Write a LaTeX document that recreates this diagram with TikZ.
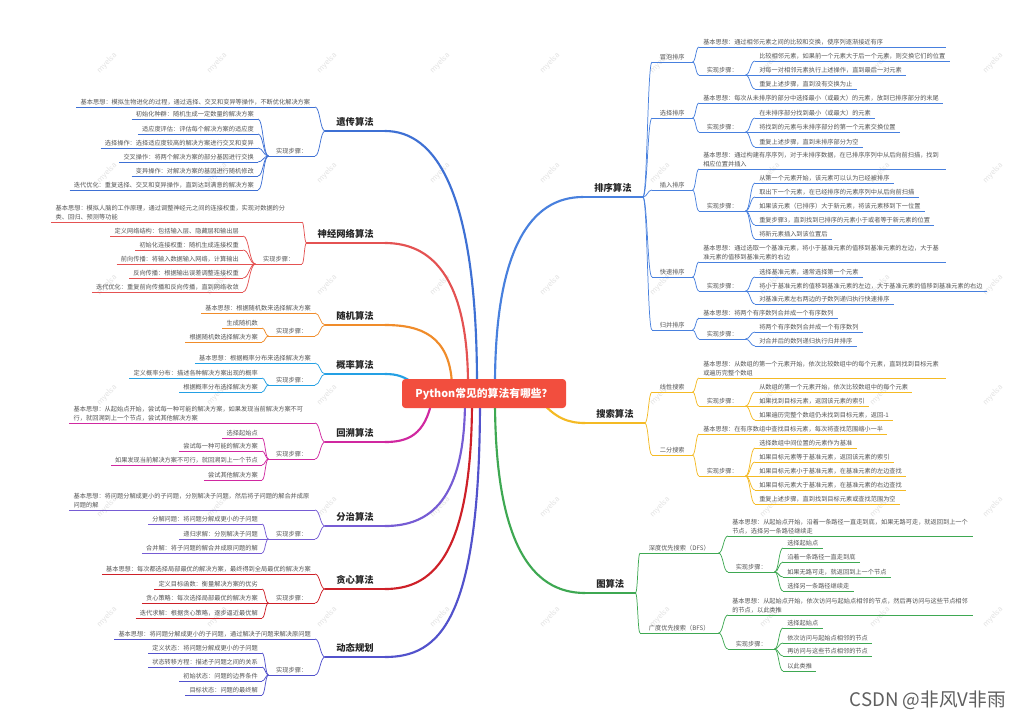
\documentclass[tikz,border=0pt]{standalone}
\usepackage{fontspec}
\setmainfont{Noto Sans CJK SC}
\usetikzlibrary{calc}
\definecolor{sortc}{RGB}{72,128,222}
\definecolor{searchc}{RGB}{244,186,36}
\definecolor{graphc}{RGB}{62,168,82}
\definecolor{genc}{RGB}{62,112,212}
\definecolor{nnc}{RGB}{228,82,82}
\definecolor{randc}{RGB}{240,140,42}
\definecolor{probc}{RGB}{36,160,228}
\definecolor{backc}{RGB}{208,40,160}
\definecolor{divc}{RGB}{118,92,212}
\definecolor{greedc}{RGB}{206,32,40}
\definecolor{dpc}{RGB}{82,82,204}
\definecolor{rootc}{RGB}{242,78,62}
\definecolor{txtc}{RGB}{85,85,85}
\definecolor{mainc}{RGB}{38,38,38}
\definecolor{wmc}{RGB}{226,226,226}
\definecolor{csdnc}{RGB}{95,95,95}
\tikzset{
  leaf/.style={font=\fontsize{4.65}{6.75}\selectfont, text=txtc, inner xsep=3pt, inner ysep=1.1pt, align=left},
  stepbox/.style={leaf, minimum width=34.5pt},
  subbox/.style={leaf, minimum width=30pt},
  mainlab/.style={font=\fontsize{7}{8}\selectfont\bfseries, text=mainc, inner xsep=8.25pt, inner ysep=3.5pt},
  rootbox/.style={fill=rootc, rounded corners=2.5pt, minimum width=123pt, minimum height=21.75pt, text=white, font=\fontsize{8.1}{9}\selectfont\bfseries, inner sep=0pt},
  ul/.style={line width=0.55pt},
  mainul/.style={line width=1.1pt},
  conn/.style={line width=0.55pt},
  branch/.style={line width=1.6pt, line cap=round},
  wm/.style={rotate=45, text=wmc, font=\fontsize{5.5}{6}\selectfont},
}
\newcommand\leafR[5][leaf]{\node[#1,anchor=south west] (#2) at (#3) {#5};\draw[ul,#4] (#2.south west) -- (#2.south east);}
\newcommand\leafL[5][leaf]{\node[#1,anchor=south east] (#2) at (#3) {#5};\draw[ul,#4] (#2.south west) -- (#2.south east);}
\newcommand\mainR[4]{\node[mainlab,anchor=south west] (#1) at (#2) {#4};\draw[mainul,#3] (#1.south west) -- (#1.south east);}
\newcommand\mainL[4]{\node[mainlab,anchor=south east] (#1) at (#2) {#4};\draw[mainul,#3] (#1.south west) -- (#1.south east);}
\newcommand\conR[3]{\draw[conn,#1] let \p1=(#2.south east),\p2=(#3.south west) in (\p1) .. controls ({0.5*(\x1+\x2)},\y1) and ({0.5*(\x1+\x2)},\y2) .. (\p2);}
\newcommand\conL[3]{\draw[conn,#1] let \p1=(#2.south west),\p2=(#3.south east) in (\p1) .. controls ({0.5*(\x1+\x2)},\y1) and ({0.5*(\x1+\x2)},\y2) .. (\p2);}
\begin{document}
\begin{tikzpicture}[x=0.75pt,y=-0.75pt]
\useasboundingbox (0,0) rectangle (1021,719);
\fill[white] (0,0) rectangle (1021,719);
% watermarks
\foreach \wx in {107,217,327,440,550,660,770,880,993}
  \foreach \wy in {63,173,285,395,507,617}
    \node[wm] (wm-\wx-\wy) at (\wx,\wy) {myelsa};

% ===== Sorting =====
\mainR{S0}{583,197}{sortc}{排序算法}
\leafR[subbox]{S1}{652,62}{sortc}{冒泡排序}
\leafR[leaf,text width=178.5pt]{S1a}{699,47}{sortc}{基本思想：通过相邻元素之间的比较和交换，使序列逐渐接近有序}
\leafR[stepbox]{S1b}{699,75}{sortc}{实现步骤：}
\leafR{S1b1}{755,61}{sortc}{比较相邻元素，如果前一个元素大于后一个元素，则交换它们的位置}
\leafR{S1b2}{755,75}{sortc}{对每一对相邻元素执行上述操作，直到最后一对元素}
\leafR{S1b3}{755,89}{sortc}{重复上述步骤，直到没有交换为止}
\leafR[subbox]{S2}{652,118}{sortc}{选择排序}
\leafR{S2a}{699,103}{sortc}{基本思想：每次从未排序的部分中选择最小（或最大）的元素，放到已排序部分的末尾}
\leafR[stepbox]{S2b}{699,132}{sortc}{实现步骤：}
\leafR{S2b1}{755,118}{sortc}{在未排序部分找到最小（或最大）的元素}
\leafR{S2b2}{755,132}{sortc}{将找到的元素与未排序部分的第一个元素交换位置}
\leafR{S2b3}{755,147}{sortc}{重复上述步骤，直到未排序部分为空}
\leafR[subbox]{S3}{652,190}{sortc}{插入排序}
\leafR[leaf,text width=178.5pt]{S3a}{699,169}{sortc}{基本思想：通过构建有序序列，对于未排序数据，在已排序序列中从后向前扫描，找到\\相应位置并插入}
\leafR[stepbox]{S3b}{699,211}{sortc}{实现步骤：}
\leafR{S3b1}{755,183}{sortc}{从第一个元素开始，该元素可以认为已经被排序}
\leafR{S3b2}{755,197}{sortc}{取出下一个元素，在已经排序的元素序列中从后向前扫描}
\leafR{S3b3}{755,211}{sortc}{如果该元素（已排序）大于新元素，将该元素移到下一位置}
\leafR{S3b4}{755,225}{sortc}{重复步骤3，直到找到已排序的元素小于或者等于新元素的位置}
\leafR{S3b5}{755,239}{sortc}{将新元素插入到该位置后}
\leafR[subbox]{S4}{652,277}{sortc}{快速排序}
\leafR[leaf,text width=178.5pt]{S4a}{699,262}{sortc}{基本思想：通过选取一个基准元素，将小于基准元素的值移到基准元素的左边，大于基\\准元素的值移到基准元素的右边}
\leafR[stepbox]{S4b}{699,291}{sortc}{实现步骤：}
\leafR{S4b1}{755,277}{sortc}{选择基准元素，通常选择第一个元素}
\leafR{S4b2}{755,291}{sortc}{将小于基准元素的值移到基准元素的左边，大于基准元素的值移到基准元素的右边}
\leafR{S4b3}{755,304}{sortc}{对基准元素左右两边的子数列递归执行快速排序}
\leafR[subbox]{S5}{652,330}{sortc}{归并排序}
\leafR{S5a}{699,318}{sortc}{基本思想：将两个有序数列合并成一个有序数列}
\leafR[stepbox]{S5b}{699,339}{sortc}{实现步骤：}
\leafR{S5b1}{755,332}{sortc}{将两个有序数列合并成一个有序数列}
\leafR{S5b2}{755,346}{sortc}{对合并后的数列递归执行归并排序}

% ===== Search =====
\mainR{Q0}{585,423}{searchc}{搜索算法}
\leafR[subbox]{Q1}{652,392}{searchc}{线性搜索}
\leafR[leaf,text width=178.5pt]{Q1a}{699,378}{searchc}{基本思想：从数组的第一个元素开始，依次比较数组中的每个元素，直到找到目标元素\\或遍历完整个数组}
\leafR[stepbox]{Q1b}{699,406}{searchc}{实现步骤：}
\leafR{Q1b1}{755,392}{searchc}{从数组的第一个元素开始，依次比较数组中的每个元素}
\leafR{Q1b2}{755,406}{searchc}{如果找到目标元素，返回该元素的索引}
\leafR{Q1b3}{755,420}{searchc}{如果遍历完整个数组仍未找到目标元素，返回-1}
\leafR[subbox]{Q2}{652,455}{searchc}{二分搜索}
\leafR{Q2a}{699,434}{searchc}{基本思想：在有序数组中查找目标元素，每次将查找范围缩小一半}
\leafR[stepbox]{Q2b}{699,476}{searchc}{实现步骤：}
\leafR{Q2b1}{755,448}{searchc}{选择数组中间位置的元素作为基准}
\leafR{Q2b2}{755,462}{searchc}{如果目标元素等于基准元素，返回该元素的索引}
\leafR{Q2b3}{755,476}{searchc}{如果目标元素小于基准元素，在基准元素的左边查找}
\leafR{Q2b4}{755,490}{searchc}{如果目标元素大于基准元素，在基准元素的右边查找}
\leafR{Q2b5}{755,504}{searchc}{重复上述步骤，直到找到目标元素或查找范围为空}

% ===== Graph =====
\mainR{G0}{585,593}{graphc}{图算法}
\leafR[leaf,minimum width=58.5pt]{G1}{640,553}{graphc}{深度优先搜索（DFS）}
\leafR[leaf,text width=177pt]{G1a}{728,536}{graphc}{基本思想：从起始点开始，沿着一条路径一直走到底，如果无路可走，就返回到上一个\\节点，选择另一条路径继续走}
\leafR[stepbox]{G1b}{728,572}{graphc}{实现步骤：}
\leafR{G1b1}{783,548}{graphc}{选择起始点}
\leafR{G1b2}{783,562}{graphc}{沿着一条路径一直走到底}
\leafR{G1b3}{783,577}{graphc}{如果无路可走，就返回到上一个节点}
\leafR{G1b4}{783,591}{graphc}{选择另一条路径继续走}
\leafR[leaf,minimum width=58.5pt]{G2}{640,633}{graphc}{广度优先搜索（BFS）}
\leafR[leaf,text width=177pt]{G2a}{728,615}{graphc}{基本思想：从起始点开始，依次访问与起始点相邻的节点，然后再访问与这些节点相邻\\的节点，以此类推}
\leafR[stepbox]{G2b}{728,649}{graphc}{实现步骤：}
\leafR{G2b1}{783,628}{graphc}{选择起始点}
\leafR{G2b2}{783,643}{graphc}{依次访问与起始点相邻的节点}
\leafR{G2b3}{783,656}{graphc}{再访问与这些节点相邻的节点}
\leafR{G2b4}{783,671}{graphc}{以此类推}

% ===== Genetic =====
\mainL{L1}{385,131}{genc}{遗传算法}
\leafL[leaf,text width=172.5pt]{L1a}{315,107}{genc}{基本思想：模拟生物进化的过程，通过选择、交叉和变异等操作，不断优化解决方案}
\leafL[stepbox]{L1b}{315,156}{genc}{实现步骤：}
\leafL{L1b1}{258,119}{genc}{初始化种群：随机生成一定数量的解决方案}
\leafL{L1b2}{258,134}{genc}{适应度评估：评估每个解决方案的适应度}
\leafL{L1b3}{258,148}{genc}{选择操作：选择适应度较高的解决方案进行交叉和变异}
\leafL{L1b4}{258,162}{genc}{交叉操作：将两个解决方案的部分基因进行交换}
\leafL{L1b5}{258,176}{genc}{变异操作：对解决方案的基因进行随机修改}
\leafL{L1b6}{258,190}{genc}{迭代优化：重复选择、交叉和变异操作，直到达到满意的解决方案}

% ===== Neural network =====
\mainL{L2}{385,243}{nnc}{神经网络算法}
\leafL[leaf,text width=181.5pt]{L2a}{302,222}{nnc}{基本思想：模拟人脑的工作原理，通过调整神经元之间的连接权重，实现对数据的分\\类、回归、预测等功能}
\leafL[stepbox]{L2b}{302,264}{nnc}{实现步骤：}
\leafL{L2b1}{243,236}{nnc}{定义网络结构：包括输入层、隐藏层和输出层}
\leafL{L2b2}{243,250}{nnc}{初始化连接权重：随机生成连接权重}
\leafL{L2b3}{243,264}{nnc}{前向传播：将输入数据输入网络，计算输出}
\leafL{L2b4}{243,278}{nnc}{反向传播：根据输出误差调整连接权重}
\leafL{L2b5}{243,292}{nnc}{迭代优化：重复前向传播和反向传播，直到网络收敛}

% ===== Random =====
\mainL{L3}{385,325}{randc}{随机算法}
\leafL{L3a}{315,313}{randc}{基本思想：根据随机数来选择解决方案}
\leafL[stepbox]{L3b}{315,336}{randc}{实现步骤：}
\leafL{L3b1}{262,328}{randc}{生成随机数}
\leafL{L3b2}{262,342}{randc}{根据随机数选择解决方案}

% ===== Probability =====
\mainL{L4}{385,374}{probc}{概率算法}
\leafL{L4a}{315,363}{probc}{基本思想：根据概率分布来选择解决方案}
\leafL[stepbox]{L4b}{315,385}{probc}{实现步骤：}
\leafL{L4b1}{262,378}{probc}{定义概率分布：描述各种解决方案出现的概率}
\leafL{L4b2}{262,392}{probc}{根据概率分布选择解决方案}

% ===== Backtracking =====
\mainL{L5}{385,442}{backc}{回溯算法}
\leafL[leaf,text width=177.75pt]{L5a}{315,423}{backc}{基本思想：从起始点开始，尝试每一种可能的解决方案，如果发现当前解决方案不可\\行，就回溯到上一个节点，尝试其他解决方案}
\leafL[stepbox]{L5b}{315,459}{backc}{实现步骤：}
\leafL{L5b1}{262,438}{backc}{选择起始点}
\leafL{L5b2}{262,451}{backc}{尝试每一种可能的解决方案}
\leafL{L5b3}{262,465}{backc}{如果发现当前解决方案不可行，就回溯到上一个节点}
\leafL{L5b4}{262,480}{backc}{尝试其他解决方案}

% ===== Divide and conquer =====
\mainL{L6}{385,526}{divc}{分治算法}
\leafL[leaf,text width=177.75pt]{L6a}{315,510}{divc}{基本思想：将问题分解成更小的子问题，分别解决子问题，然后将子问题的解合并成原\\问题的解}
\leafL[stepbox]{L6b}{315,539}{divc}{实现步骤：}
\leafL{L6b1}{262,524}{divc}{分解问题：将问题分解成更小的子问题}
\leafL{L6b2}{262,539}{divc}{递归求解：分别解决子问题}
\leafL{L6b3}{262,553}{divc}{合并解：将子问题的解合并成原问题的解}

% ===== Greedy =====
\mainL{L7}{385,589}{greedc}{贪心算法}
\leafL{L7a}{315,574}{greedc}{基本思想：每次都选择局部最优的解决方案，最终得到全局最优的解决方案}
\leafL[stepbox]{L7b}{315,603}{greedc}{实现步骤：}
\leafL{L7b1}{262,589}{greedc}{定义目标函数：衡量解决方案的优劣}
\leafL{L7b2}{262,603}{greedc}{贪心策略：每次选择局部最优的解决方案}
\leafL{L7b3}{262,618}{greedc}{迭代求解：根据贪心策略，逐步逼近最优解}

% ===== Dynamic programming =====
\mainL{L8}{385,657}{dpc}{动态规划}
\leafL{L8a}{315,639}{dpc}{基本思想：将问题分解成更小的子问题，通过解决子问题来解决原问题}
\leafL[stepbox]{L8b}{315,675}{dpc}{实现步骤：}
\leafL{L8b1}{262,653}{dpc}{定义状态：将问题分解成更小的子问题}
\leafL{L8b2}{262,667}{dpc}{状态转移方程：描述子问题之间的关系}
\leafL{L8b3}{262,681}{dpc}{初始状态：问题的边界条件}
\leafL{L8b4}{262,695}{dpc}{目标状态：问题的最终解}

% ===== main branches =====
\coordinate (rS) at (495,385);
\coordinate (rQ) at (540,400);
\coordinate (rG) at (495,400);
\coordinate (r1) at (477,385);
\coordinate (r2) at (468,385);
\coordinate (r3) at (452,385);
\coordinate (r4) at (420,388);
\coordinate (r5) at (432,400);
\coordinate (r6) at (465,400);
\coordinate (r7) at (472,400);
\coordinate (r8) at (480,400);
\draw[branch,sortc] (rS) .. controls (495,250) and (530,197) .. (S0.south west);
\draw[branch,searchc] (rQ) .. controls (555,418) and (568,423) .. (Q0.south west);
\draw[branch,graphc] (rG) .. controls (495,540) and (530,593) .. (G0.south west);
\draw[branch,genc] (r1) .. controls (477,190) and (435,131) .. (L1.south east);
\draw[branch,nnc] (r2) .. controls (468,275) and (430,243) .. (L2.south east);
\draw[branch,randc] (r3) .. controls (450,335) and (420,325) .. (L3.south east);
\draw[branch,probc] (r4) .. controls (405,376) and (397,374) .. (L4.south east);
\draw[branch,backc] (r5) .. controls (425,435) and (408,442) .. (L5.south east);
\draw[branch,divc] (r6) .. controls (465,500) and (430,526) .. (L6.south east);
\draw[branch,greedc] (r7) .. controls (472,560) and (430,589) .. (L7.south east);
\draw[branch,dpc] (r8) .. controls (480,620) and (440,657) .. (L8.south east);

\node[rootbox] (root) at (484,393.5) {Python常见的算法有哪些？};

% ===== connectors: sorting =====
\foreach \ch in {S1,S2,S3,S4,S5} {\conR{sortc}{S0}{\ch}}
\foreach \pa in {S1,S2,S3,S4,S5} {\conR{sortc}{\pa}{\pa a}\conR{sortc}{\pa}{\pa b}}
\foreach \ch in {S1b1,S1b2,S1b3} {\conR{sortc}{S1b}{\ch}}
\foreach \ch in {S2b1,S2b2,S2b3} {\conR{sortc}{S2b}{\ch}}
\foreach \ch in {S3b1,S3b2,S3b3,S3b4,S3b5} {\conR{sortc}{S3b}{\ch}}
\foreach \ch in {S4b1,S4b2,S4b3} {\conR{sortc}{S4b}{\ch}}
\foreach \ch in {S5b1,S5b2} {\conR{sortc}{S5b}{\ch}}
% search
\foreach \ch in {Q1,Q2} {\conR{searchc}{Q0}{\ch}}
\foreach \pa in {Q1,Q2} {\conR{searchc}{\pa}{\pa a}\conR{searchc}{\pa}{\pa b}}
\foreach \ch in {Q1b1,Q1b2,Q1b3} {\conR{searchc}{Q1b}{\ch}}
\foreach \ch in {Q2b1,Q2b2,Q2b3,Q2b4,Q2b5} {\conR{searchc}{Q2b}{\ch}}
% graph
\foreach \ch in {G1,G2} {\conR{graphc}{G0}{\ch}}
\foreach \pa in {G1,G2} {\conR{graphc}{\pa}{\pa a}\conR{graphc}{\pa}{\pa b}}
\foreach \ch in {G1b1,G1b2,G1b3,G1b4} {\conR{graphc}{G1b}{\ch}}
\foreach \ch in {G2b1,G2b2,G2b3,G2b4} {\conR{graphc}{G2b}{\ch}}
% left side
\conL{genc}{L1}{L1a}\conL{genc}{L1}{L1b}
\foreach \ch in {L1b1,L1b2,L1b3,L1b4,L1b5,L1b6} {\conL{genc}{L1b}{\ch}}
\conL{nnc}{L2}{L2a}\conL{nnc}{L2}{L2b}
\foreach \ch in {L2b1,L2b2,L2b3,L2b4,L2b5} {\conL{nnc}{L2b}{\ch}}
\conL{randc}{L3}{L3a}\conL{randc}{L3}{L3b}
\foreach \ch in {L3b1,L3b2} {\conL{randc}{L3b}{\ch}}
\conL{probc}{L4}{L4a}\conL{probc}{L4}{L4b}
\foreach \ch in {L4b1,L4b2} {\conL{probc}{L4b}{\ch}}
\conL{backc}{L5}{L5a}\conL{backc}{L5}{L5b}
\foreach \ch in {L5b1,L5b2,L5b3,L5b4} {\conL{backc}{L5b}{\ch}}
\conL{divc}{L6}{L6a}\conL{divc}{L6}{L6b}
\foreach \ch in {L6b1,L6b2,L6b3} {\conL{divc}{L6b}{\ch}}
\conL{greedc}{L7}{L7a}\conL{greedc}{L7}{L7b}
\foreach \ch in {L7b1,L7b2,L7b3} {\conL{greedc}{L7b}{\ch}}
\conL{dpc}{L8}{L8a}\conL{dpc}{L8}{L8b}
\foreach \ch in {L8b1,L8b2,L8b3,L8b4} {\conL{dpc}{L8b}{\ch}}

\node[anchor=east, font=\fontsize{14}{15}\selectfont, text=csdnc, inner sep=0pt] (csdn) at (1006,700) {CSDN @非风V非雨};
\end{tikzpicture}
\end{document}
